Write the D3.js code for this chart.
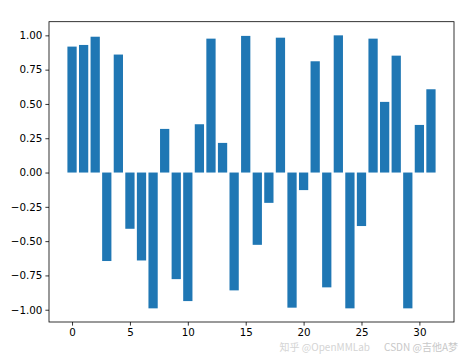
<!DOCTYPE html>
<html>
<head>
<meta charset="utf-8">
<script src="https://cdn.jsdelivr.net/npm/d3@7"></script>
<style>
html,body{margin:0;padding:0;background:#fff;}
svg{display:block;}
</style>
</head>
<body>
<svg id="chart" width="474" height="357"></svg>
<script>
const categories = d3.range(32);
const values = [0.918, 0.93, 0.99, -0.645, 0.86, -0.41, -0.641, -0.99, 0.318, -0.777,
  -0.937, 0.352, 0.976, 0.216, -0.859, 0.996, -0.527, -0.221, 0.983, -0.985,
  -0.128, 0.811, -0.837, 1.0, -0.99, -0.39, 0.976, 0.515, 0.852, -0.99, 0.347, 0.607];
const xTicks = [0, 5, 10, 15, 20, 25, 30];
const yTicks = [-1.0, -0.75, -0.5, -0.25, 0.0, 0.25, 0.5, 0.75, 1.0];
const watermarks = ["知乎 @OpenMMLab", "CSDN @吉他A梦"];

const svg = d3.select("#chart");
const L = 49, R = 454, T = 21.7, B = 322;
const barW = 0.8;
const xMin = -barW/2, xMax = categories.length - 1 + barW/2;
const xPad = (xMax - xMin) * 0.05;
const x = d3.scaleLinear().domain([xMin - xPad, xMax + xPad]).range([L, R]);
const yLo = Math.min(0, d3.min(values)), yHi = Math.max(0, d3.max(values));
const yPad = (yHi - yLo) * 0.05;
const y = d3.scaleLinear().domain([yLo - yPad, yHi + yPad]).range([B, T]);

svg.append("g").selectAll("rect").data(categories).join("rect")
  .attr("x", i => x(i - barW/2))
  .attr("width", i => x(i + barW/2) - x(i - barW/2))
  .attr("y", i => y(Math.max(0, values[i])))
  .attr("height", i => Math.abs(y(values[i]) - y(0)))
  .attr("fill", "#1f77b4");

const font = "DejaVu Sans, sans-serif";
const xAxis = svg.append("g").attr("transform", `translate(0,${B})`)
  .call(d3.axisBottom(x).tickValues(xTicks).tickSize(3.6).tickPadding(3).tickFormat(d3.format("d")));
const yAxis = svg.append("g").attr("transform", `translate(${L},0)`)
  .call(d3.axisLeft(y).tickValues(yTicks).tickSize(3.6).tickPadding(3)
    .tickFormat(d => d3.format(".2f")(d).replace("-", "\u2212")));
[xAxis, yAxis].forEach(g => {
  g.select(".domain").remove();
  g.selectAll(".tick line").attr("stroke", "#000").attr("stroke-width", 0.8);
  g.selectAll(".tick text").attr("fill", "#000").style("font-family", font).style("font-size", "10.3px");
});

svg.append("rect").attr("x", L).attr("y", T).attr("width", R - L).attr("height", B - T)
  .attr("fill", "none").attr("stroke", "#000").attr("stroke-width", 0.8);

svg.append("text").attr("x", 370).attr("y", 351).attr("text-anchor", "end")
  .style("font-family", "Noto Sans CJK SC, sans-serif").style("font-size", "10px")
  .attr("fill", "#d4d4d4").text(watermarks[0]);
svg.append("text").attr("x", 458).attr("y", 351).attr("text-anchor", "end")
  .style("font-family", "Noto Sans CJK SC, sans-serif").style("font-size", "10px")
  .attr("fill", "#c8c8c8").text(watermarks[1]);
</script>
</body>
</html>
